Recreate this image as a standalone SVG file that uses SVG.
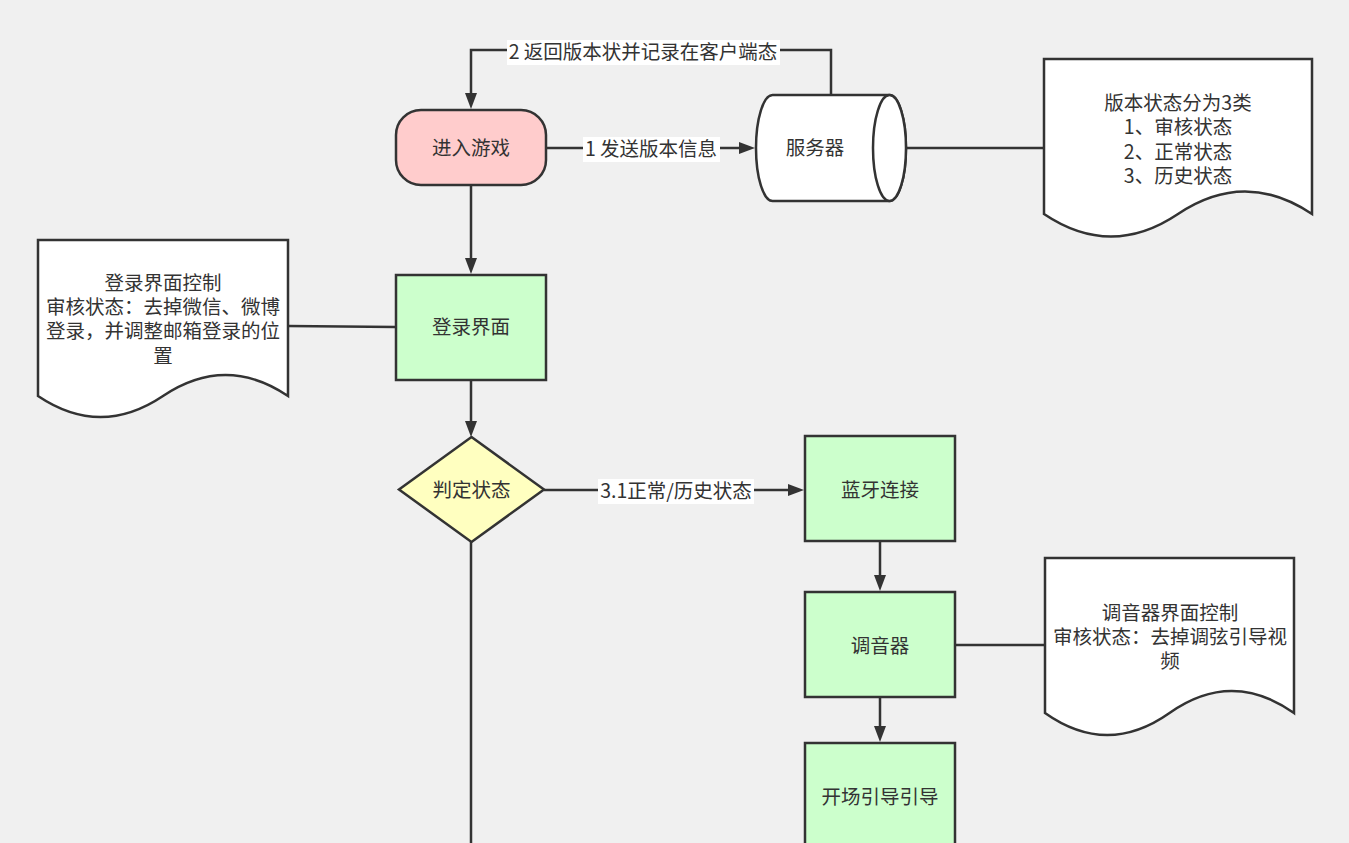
<svg xmlns="http://www.w3.org/2000/svg" width="1349" height="843" viewBox="0 0 1349 843">
<style>
.s{stroke:#333;stroke-width:2.5;}
.t{font-family:"Noto Sans CJK SC","Noto Sans",sans-serif;font-size:19.5px;fill:#333;text-anchor:middle;}
.ln{fill:none;stroke:#333;stroke-width:2.5;}
.lb{fill:#fff;}
</style>
<defs>
<marker id="ar" markerUnits="userSpaceOnUse" markerWidth="18" markerHeight="12" refX="1" refY="6" orient="auto">
<path d="M0,0 L16,6 L0,12 Z" fill="#333"/>
</marker>
</defs>
<rect width="1349" height="843" fill="#f0f0f0"/>
<g id="edges">
<path class="ln" d="M546,148 L740,148" marker-end="url(#ar)"/>
<rect class="lb" x="583" y="137" width="137" height="25"/>
<text class="t" x="651" y="156">1 发送版本信息</text>
<path class="ln" d="M831,95 L831,50 L471,50 L471,94" marker-end="url(#ar)"/>
<rect class="lb" x="507" y="40" width="273" height="25"/>
<text class="t" x="643" y="59">2 返回版本状并记录在客户端态</text>
<path class="ln" d="M471,185 L471,259" marker-end="url(#ar)"/>
<path class="ln" d="M471,380 L471,422" marker-end="url(#ar)"/>
<path class="ln" d="M544,490 L789,490" marker-end="url(#ar)"/>
<rect class="lb" x="598" y="479" width="156" height="25"/>
<text class="t" x="676" y="498">3.1正常/历史状态</text>
<path class="ln" d="M880,541 L880,576" marker-end="url(#ar)"/>
<path class="ln" d="M880,697 L880,727" marker-end="url(#ar)"/>
<path class="ln" d="M471,541 L471,843"/>
<path class="ln" d="M906,148 L1044,148"/>
<path class="ln" d="M288,326 L396,327"/>
<path class="ln" d="M955,645 L1045,645"/>
</g>
<g id="start">
<rect class="s" x="396" y="110" width="150" height="75" rx="25" ry="25" fill="#ffcccc"/>
<text class="t" x="471" y="155">进入游戏</text>
</g>
<g id="server">
<path class="s" d="M772.5,95 L889.5,95 A16.5,53 0 0 1 889.5,201 L772.5,201 A16.5,53 0 0 1 772.5,95 Z" fill="#fff"/>
<ellipse class="s" cx="889.5" cy="148" rx="16.5" ry="53" fill="#fff"/>
<text class="t" x="815" y="155">服务器</text>
</g>
<g id="doc-version">
<path class="s" d="M1044,59 L1312,59 L1312,214 Q1245,169 1178,214 Q1111,259 1044,214 Z" fill="#fff"/>
<text class="t" x="1178" y="110"><tspan x="1178" y="110">版本状态分为3类</tspan><tspan x="1178" y="134">1、审核状态</tspan><tspan x="1178" y="159">2、正常状态</tspan><tspan x="1178" y="183">3、历史状态</tspan></text>
</g>
<g id="doc-login">
<path class="s" d="M38,240 L288,240 L288,396 Q225.5,354 163,396 Q100.5,438 38,396 Z" fill="#fff"/>
<text class="t" x="163" y="290"><tspan x="163" y="290">登录界面控制</tspan><tspan x="163" y="314">审核状态：去掉微信、微博</tspan><tspan x="163" y="338">登录，并调整邮箱登录的位</tspan><tspan x="163" y="363">置</tspan></text>
</g>
<g id="login">
<rect class="s" x="396" y="275" width="150" height="105" fill="#ccffcc"/>
<text class="t" x="471" y="334">登录界面</text>
</g>
<g id="decide">
<path class="s" d="M471.5,437 L544,489.5 L471.5,542 L399,489.5 Z" fill="#ffffc0"/>
<text class="t" x="471.5" y="497">判定状态</text>
</g>
<g id="bluetooth">
<rect class="s" x="805" y="436" width="150" height="105" fill="#ccffcc"/>
<text class="t" x="880" y="497">蓝牙连接</text>
</g>
<g id="tuner">
<rect class="s" x="805" y="592" width="150" height="105" fill="#ccffcc"/>
<text class="t" x="880" y="653">调音器</text>
</g>
<g id="guide">
<rect class="s" x="805" y="743" width="150" height="105" fill="#ccffcc"/>
<text class="t" x="880" y="804">开场引导引导</text>
</g>
<g id="doc-tuner">
<path class="s" d="M1045,558 L1294,558 L1294,713 Q1231.75,669 1169.5,713 Q1107.25,757 1045,713 Z" fill="#fff"/>
<text class="t" x="1170" y="620"><tspan x="1170" y="620">调音器界面控制</tspan><tspan x="1170" y="644">审核状态：去掉调弦引导视</tspan><tspan x="1170" y="668">频</tspan></text>
</g>
</svg>
